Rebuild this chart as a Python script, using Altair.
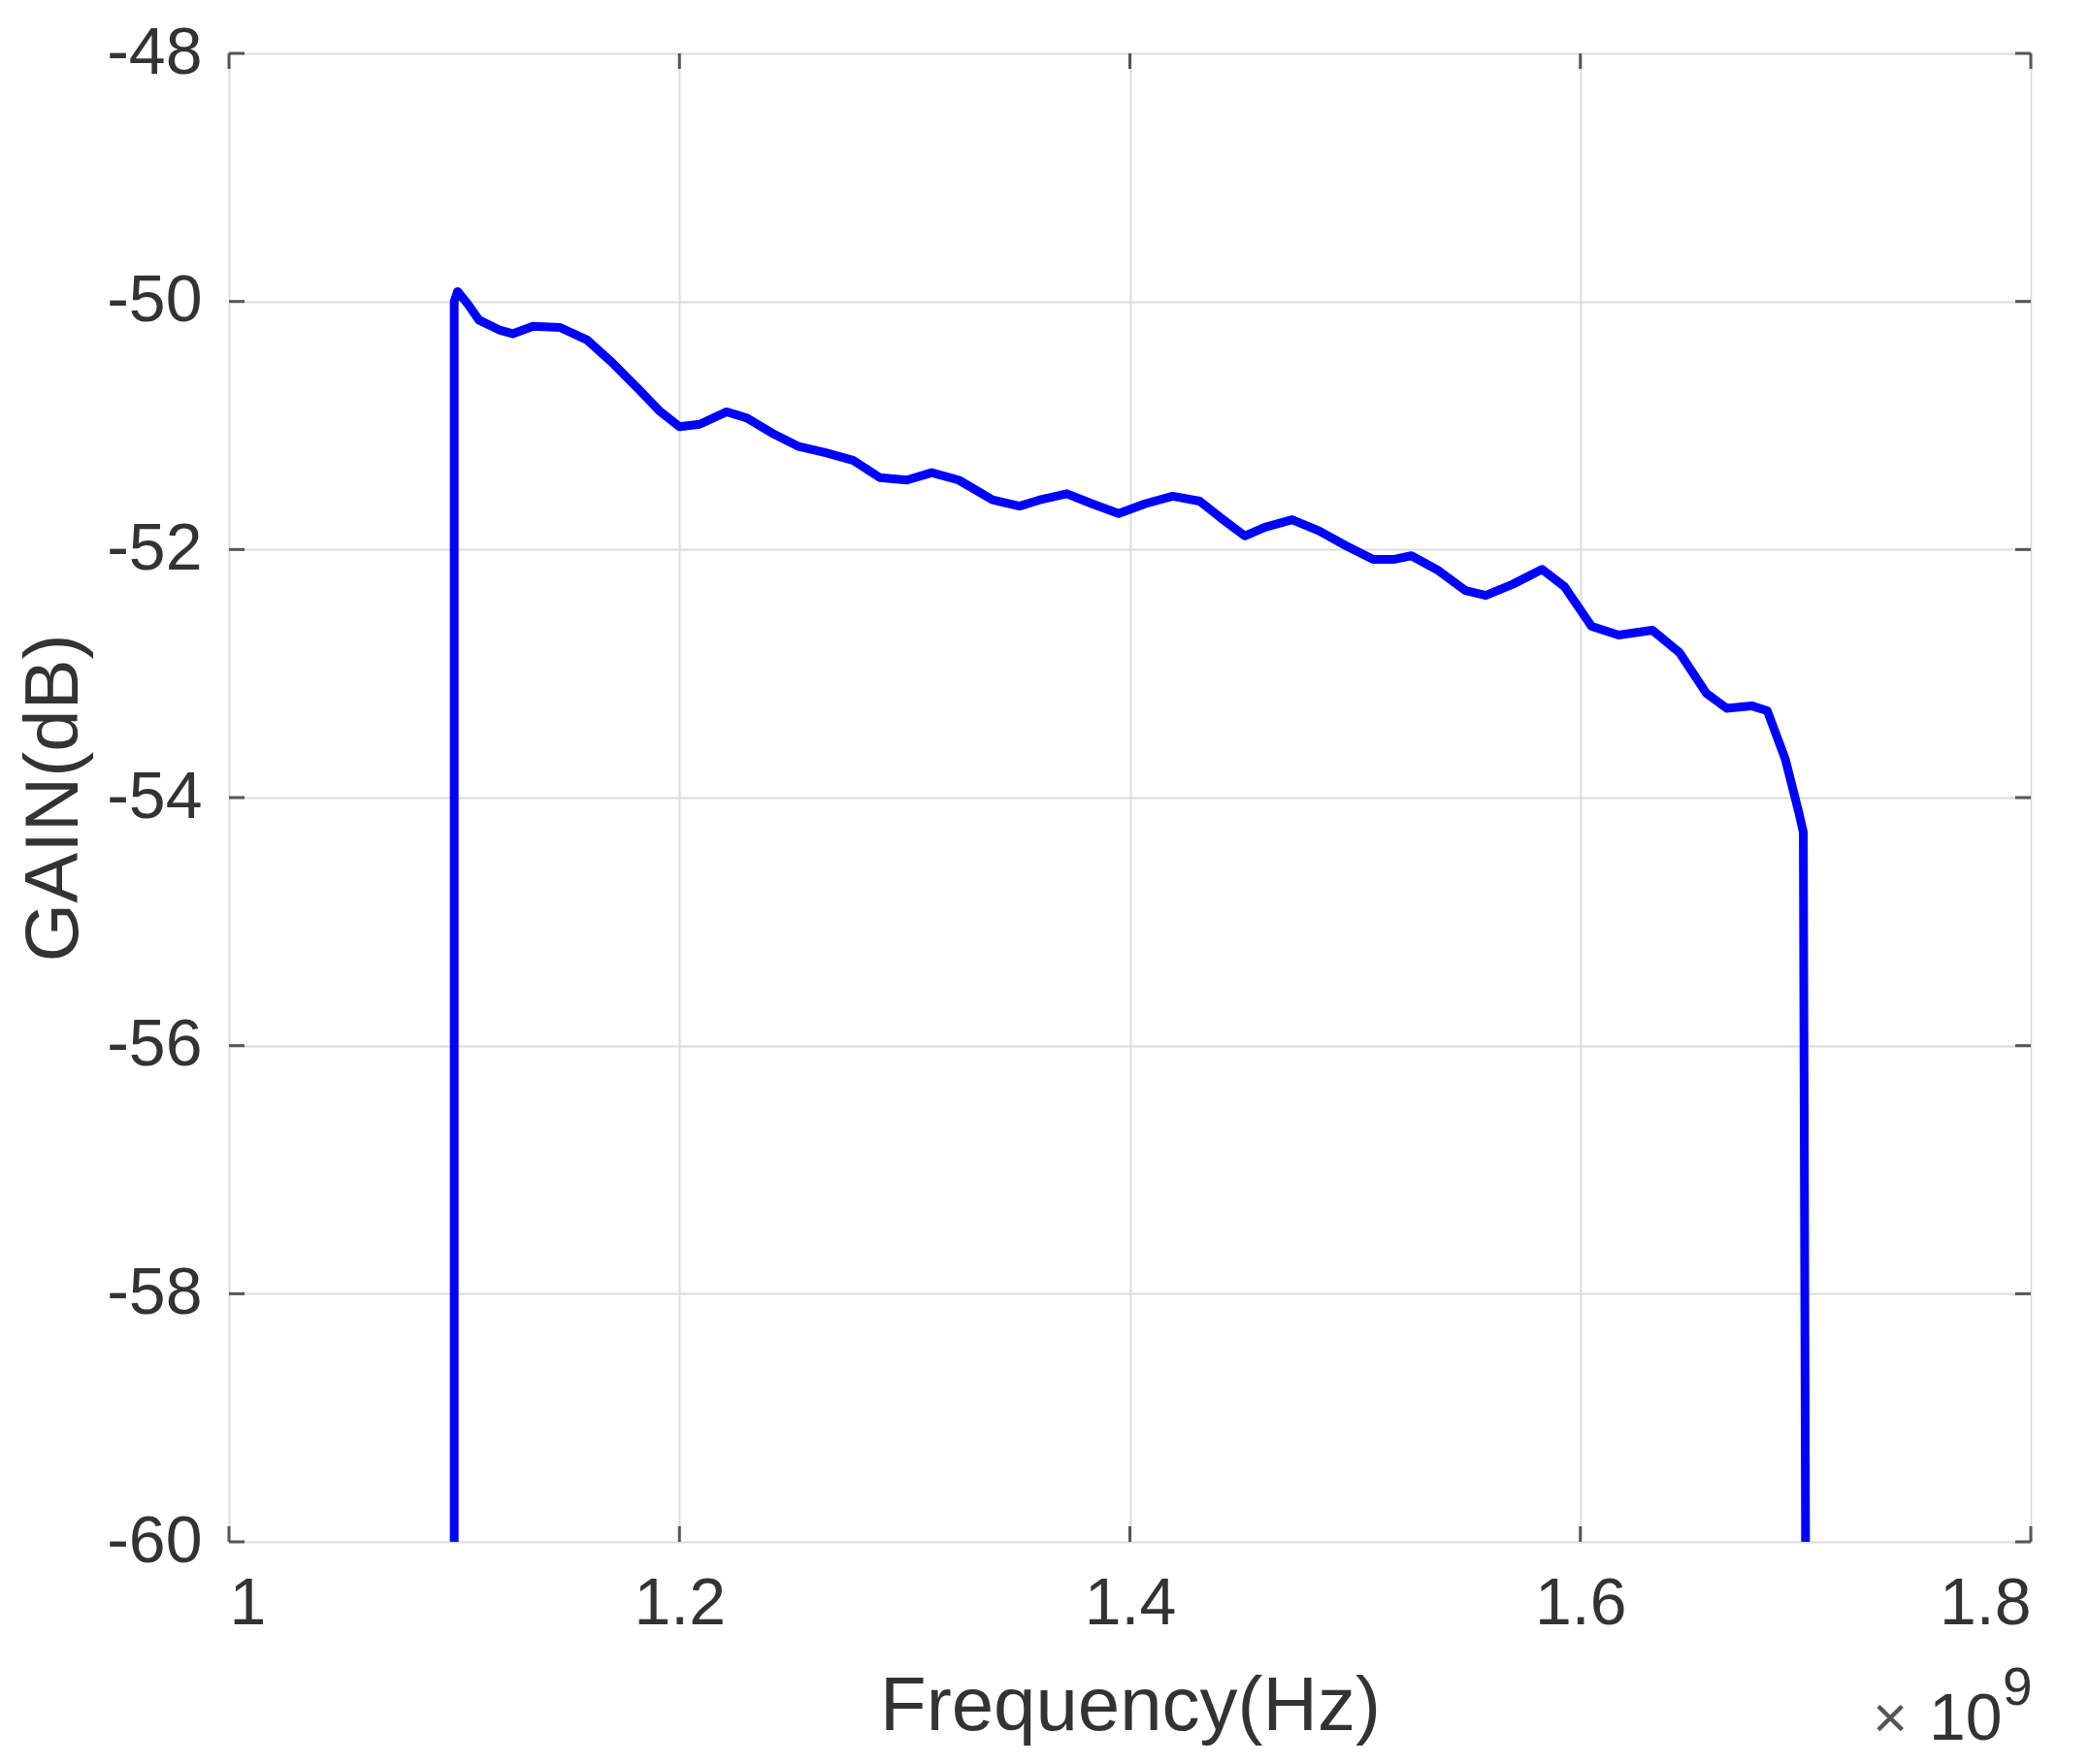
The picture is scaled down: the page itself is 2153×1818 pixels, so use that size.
import altair as alt
import pandas as pd

# Frequency (Hz) and gain (dB)
freq_hz = [1.100e9, 1.100e9, 1.1015e9, 1.106e9, 1.111e9, 1.120e9, 1.126e9, 1.135e9, 1.147e9, 1.159e9,
           1.170e9, 1.182e9, 1.191e9, 1.200e9, 1.209e9, 1.221e9, 1.230e9, 1.241e9,
           1.253e9, 1.265e9, 1.277e9, 1.289e9, 1.301e9, 1.312e9, 1.324e9, 1.339e9,
           1.351e9, 1.360e9, 1.372e9, 1.383e9, 1.395e9, 1.407e9, 1.419e9, 1.431e9,
           1.440e9, 1.451e9, 1.460e9, 1.472e9, 1.484e9, 1.496e9, 1.508e9, 1.517e9,
           1.525e9, 1.537e9, 1.549e9, 1.558e9, 1.570e9, 1.583e9, 1.593e9, 1.605e9,
           1.617e9, 1.632e9, 1.644e9, 1.656e9, 1.665e9, 1.676e9, 1.683e9, 1.691e9,
           1.697e9, 1.699e9, 1.700e9]
gain_db = [-60.0, -50.0, -49.92, -50.02, -50.15, -50.23, -50.26, -50.20, -50.21, -50.31,
           -50.49, -50.71, -50.88, -51.01, -50.99, -50.89, -50.94, -51.06,
           -51.17, -51.22, -51.28, -51.42, -51.44, -51.38, -51.44, -51.60,
           -51.65, -51.60, -51.55, -51.63, -51.71, -51.63, -51.57, -51.61,
           -51.74, -51.89, -51.82, -51.76, -51.85, -51.97, -52.08, -52.08,
           -52.05, -52.17, -52.33, -52.37, -52.28, -52.16, -52.30, -52.62,
           -52.69, -52.65, -52.83, -53.16, -53.28, -53.26, -53.30, -53.69,
           -54.12, -54.28, -60.0]

x_ticks = [1.0e9, 1.2e9, 1.4e9, 1.6e9, 1.8e9]
y_ticks = [-48, -50, -52, -54, -56, -58, -60]

W, H = 1857, 1534
TICK = 16
TXT = "#333333"
FONT = "Liberation Sans"

df = pd.DataFrame({"f": freq_hz, "g": gain_db, "i": list(range(len(freq_hz)))})
xt = pd.DataFrame({"f": x_ticks})
yt = pd.DataFrame({"g": y_ticks})

xscale = alt.Scale(domain=[1.0e9, 1.8e9], nice=False, zero=False)
yscale = alt.Scale(domain=[-60, -48], nice=False, zero=False)

line = alt.Chart(df).mark_line(color="#0000ff", strokeWidth=9, clip=True,
                               strokeJoin="round", strokeCap="butt").encode(
    x=alt.X("f:Q", scale=xscale,
            axis=alt.Axis(values=x_ticks, title="Frequency(Hz)",
                          labelExpr="format(datum.value / 1e9, '~g')",
                          grid=True, gridColor="#dcdcdc", gridWidth=2,
                          domain=False, ticks=False, tickSize=0,
                          labelFontSize=68, labelFont=FONT, labelColor=TXT,
                          labelPadding=30, titleFontSize=78, titleFont=FONT,
                          titleColor=TXT, titleFontWeight="normal", titlePadding=33)),
    y=alt.Y("g:Q", scale=yscale,
            axis=alt.Axis(values=y_ticks, title="GAIN(dB)",
                          labelExpr="datum.value < 0 ? '-' + toString(abs(datum.value)) : toString(datum.value)",
                          grid=True, gridColor="#dcdcdc", gridWidth=2,
                          domain=False, ticks=False, tickSize=0,
                          labelFontSize=68, labelFont=FONT, labelColor=TXT,
                          labelPadding=28, titleFontSize=78, titleFont=FONT,
                          titleColor=TXT, titleFontWeight="normal", titlePadding=14)),
    order="i:Q",
)

tick_col = "#555555"
xb = alt.Chart(xt).mark_rule(color=tick_col, strokeWidth=3).encode(
    x=alt.X("f:Q", scale=xscale), y=alt.value(H), y2=alt.value(H - TICK))
xtop = alt.Chart(xt).mark_rule(color=tick_col, strokeWidth=3).encode(
    x=alt.X("f:Q", scale=xscale), y=alt.value(0), y2=alt.value(TICK))
yl = alt.Chart(yt).mark_rule(color=tick_col, strokeWidth=3).encode(
    y=alt.Y("g:Q", scale=yscale), x=alt.value(0), x2=alt.value(TICK))
yr = alt.Chart(yt).mark_rule(color=tick_col, strokeWidth=3).encode(
    y=alt.Y("g:Q", scale=yscale), x=alt.value(W), x2=alt.value(W - TICK))

exp_times = alt.Chart(pd.DataFrame({"t": ["×"]})).mark_text(
    font=FONT, fontSize=62, color="#555555", align="left", baseline="alphabetic").encode(
    text="t:N", x=alt.value(1694), y=alt.value(1736))
exp_base = alt.Chart(pd.DataFrame({"t": ["10"]})).mark_text(
    font=FONT, fontSize=68, color=TXT, align="left", baseline="alphabetic").encode(
    text="t:N", x=alt.value(1752), y=alt.value(1738))
exp_sup = alt.Chart(pd.DataFrame({"t": ["9"]})).mark_text(
    font=FONT, fontSize=55, color=TXT, align="left", baseline="alphabetic").encode(
    text="t:N", x=alt.value(1828), y=alt.value(1702))

chart = alt.layer(line, xb, xtop, yl, yr, exp_times, exp_base, exp_sup).properties(
    width=W, height=H,
    autosize=alt.AutoSizeParams(type="none"),
    padding={"left": 228, "top": 47, "right": 52, "bottom": 221},
).configure_view(stroke="#6a6a6a", strokeWidth=4).configure(background="white")

chart.save("out.html", embed_options={"renderer": "svg", "actions": False})
